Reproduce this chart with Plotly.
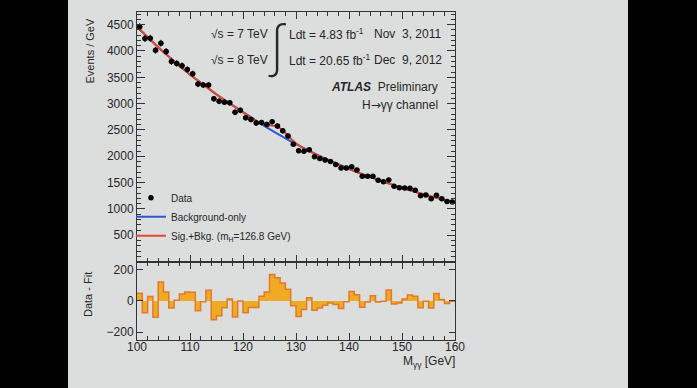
import numpy as np
import plotly.graph_objects as go

# ---------------- data ----------------
bin_lo = list(range(100, 160))              # 1 GeV bins, lower edges [GeV]
curve_mass = list(range(100, 161))          # fit curve sample points [GeV]

data_events = [4460, 4235, 4241, 4013, 4147, 3992, 3800, 3764, 3719, 3649,
               3566, 3371, 3353, 3352, 3091, 3045, 3028, 3015, 2834, 2872,
               2731, 2697, 2631, 2640, 2605, 2656, 2575, 2484, 2387, 2227,
               2104, 2097, 2122, 1993, 1960, 1930, 1899, 1845, 1776, 1776,
               1800, 1741, 1622, 1619, 1621, 1546, 1515, 1552, 1429, 1403,
               1397, 1392, 1354, 1252, 1265, 1193, 1259, 1195, 1141, 1131]

data_minus_fit = [50, -75, 28, -105, 122, 58, -45, 5, 45, 58,
                  55, -62, -5, 69, -120, -95, -43, 12, -103, 0,
                  -75, -42, -42, 30, 58, 170, 148, 115, 75, -30,
                  -100, -55, 20, -60, -45, -28, -13, -22, -48, -5,
                  60, 40, -40, -6, 33, -6, -2, 70, -20, -13,
                  12, 38, 30, -43, -2, -45, 48, 10, -17, -2]

bkg_only = [4460, 4359, 4261, 4165, 4071, 3979, 3889, 3802, 3716, 3632,
            3550, 3472, 3395, 3320, 3247, 3175, 3105, 3037, 2970, 2904,
            2840, 2772, 2706, 2641, 2578, 2517, 2456, 2398, 2340, 2285,
            2230, 2178, 2127, 2077, 2029, 1981, 1935, 1890, 1845, 1802,
            1760, 1720, 1681, 1643, 1606, 1570, 1534, 1499, 1466, 1432,
            1400, 1369, 1339, 1309, 1281, 1252, 1225, 1198, 1171, 1145, 1120]

sig_plus_bkg = [4460, 4359, 4261, 4165, 4071, 3979, 3889, 3802, 3716, 3632,
                3550, 3472, 3395, 3320, 3247, 3173, 3102, 3033, 2965, 2898,
                2833, 2764, 2700, 2645, 2606, 2589, 2573, 2529, 2441, 2337,
                2246, 2176, 2120, 2069, 2022, 1974, 1929, 1884, 1840, 1798,
                1757, 1718, 1680, 1643, 1606, 1570, 1534, 1499, 1466, 1432,
                1400, 1369, 1339, 1309, 1281, 1252, 1225, 1198, 1171, 1145, 1120]

main_ticks = [500, 1000, 1500, 2000, 2500, 3000, 3500, 4000, 4500]
resid_ticks = [-200, 0, 200]
mass_ticks = [100, 110, 120, 130, 140, 150, 160]

# ---------------- derived ----------------
bin_center = [b + 0.5 for b in bin_lo]
data_err = list(np.sqrt(np.array(data_events, dtype=float)))
step_x = bin_lo + [bin_lo[-1] + 1]
step_y = data_minus_fit + [data_minus_fit[-1]]

TXT = '#272727'
AX = '#333333'
SLIDE = '#dcdedd'
FONT = 'Liberation Sans, Arial, sans-serif'

fig = go.Figure()

fig.add_trace(go.Scatter(x=curve_mass, y=bkg_only, mode='lines', name='Background-only',
                         line=dict(color='#2f55d8', width=2), xaxis='x', yaxis='y', legendrank=2))
fig.add_trace(go.Scatter(x=curve_mass, y=sig_plus_bkg, mode='lines', name='Sig.+Bkg. (m<sub>H</sub>=126.8 GeV)',
                         line=dict(color='#e4482c', width=2, shape='spline', smoothing=0.6),
                         xaxis='x', yaxis='y', legendrank=3))
fig.add_trace(go.Scatter(x=bin_center, y=data_events, mode='markers', name='Data',
                         marker=dict(color='black', size=5.5),
                         error_y=dict(type='data', array=data_err, color='black', thickness=1, width=0),
                         error_x=dict(type='constant', value=0.5, color='black', thickness=1, width=0),
                         xaxis='x', yaxis='y', legendrank=1))
fig.add_trace(go.Scatter(x=step_x, y=step_y, mode='lines', line=dict(shape='hv', color='#e27a2a', width=1.5),
                         fill='tozeroy', fillcolor='#f1aa24', showlegend=False, xaxis='x2', yaxis='y2'))

axis_common = dict(showline=True, linecolor=AX, linewidth=1, mirror='allticks', ticks='inside',
                   tickcolor=AX, showgrid=False, zeroline=False,
                   tickfont=dict(family=FONT, size=12, color=TXT))

fig.update_layout(
    width=697, height=388,
    margin=dict(l=137, r=242, t=12, b=48),
    paper_bgcolor='black', plot_bgcolor=SLIDE,
    font=dict(family=FONT, color=TXT),
    xaxis=dict(domain=[0, 1], range=[100, 160], anchor='y', showticklabels=False,
               tickvals=mass_ticks, ticklen=7,
               minor=dict(dtick=2, ticklen=4, ticks='inside', tickcolor=AX), **axis_common),
    yaxis=dict(domain=[0.239, 1], range=[0, 4740], anchor='x', tickvals=main_ticks, ticklen=8,
               minor=dict(dtick=100, ticklen=4, ticks='inside', tickcolor=AX), **axis_common),
    xaxis2=dict(domain=[0, 1], range=[100, 160], anchor='y2', matches='x',
                tickvals=mass_ticks, ticklen=7, ticklabelstandoff=-4,
                minor=dict(dtick=2, ticklen=4, ticks='inside', tickcolor=AX), **axis_common),
    yaxis2=dict(domain=[0, 0.239], range=[-250, 252], anchor='x2', tickvals=resid_ticks, ticklen=6,
                **axis_common),
    legend=dict(x=-0.019, y=0.478, xanchor='left', yanchor='top', bgcolor='rgba(0,0,0,0)',
                font=dict(family=FONT, size=10, color=TXT), itemwidth=30, tracegroupgap=0),
    showlegend=True,
)

fig.add_shape(type='rect', xref='paper', yref='paper', x0=(68 - 137) / 318, x1=(628 - 137) / 318,
              y0=-0.3, y1=1.2, fillcolor=SLIDE, line=dict(width=0), layer='below')

def ann(text, x, y, xa='left', ya='middle', size=12, xref='x', yref='y', angle=0, family=FONT,
        weight='normal'):
    fig.add_annotation(text=text, x=x, y=y, xref=xref, yref=yref, xanchor=xa, yanchor=ya,
                       showarrow=False, textangle=angle,
                       font=dict(family=family, size=size, color=TXT, weight=weight))

ann('√s = 7 TeV', 125.0, 4330, xa='right')
ann('√s = 8 TeV', 125.0, 3822, xa='right')
ann('∫', 126.6, 4100, xa='center', size=54, family='Inter, Noto Sans, DejaVu Sans', weight=200)
ann('Ldt = 4.83 fb<sup>-1</sup>', 128.3, 4330)
ann('Ldt = 20.65 fb<sup>-1</sup>', 128.3, 3822)
ann('Nov\u00a0 3, 2011', 144.4, 4330)
ann('Dec\u00a0 9, 2012', 144.4, 3822)
ann('<b><i>ATLAS</i></b>\u00a0 Preliminary', 157.2, 3317, xa='right')
ann('H<span style="font-family:DejaVu Sans">→</span>γγ channel', 157.2, 2970, xa='right')

ann('Events / GeV', (90 - 137) / 318, 1 - (51.5 - 12) / 328, xa='center', ya='middle',
    size=11, xref='paper', yref='paper', angle=-90)
ann('Data - Fit', (88 - 137) / 318, 1 - (295 - 12) / 328, xa='center', ya='middle',
    size=11, xref='paper', yref='paper', angle=-90)
ann('M<sub>γγ</sub> [GeV]', (457 - 137) / 318, 1 - (362 - 12) / 328, xa='right', ya='middle',
    size=12, xref='paper', yref='paper')

fig.write_html('out.html', post_script="document.body.style.margin='0';",
               config={'displayModeBar': False})
